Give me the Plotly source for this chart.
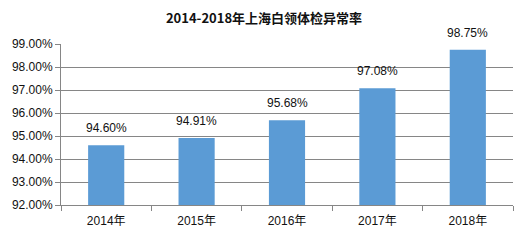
import plotly.graph_objects as go

categories = ["2014年", "2015年", "2016年", "2017年", "2018年"]
values = [94.60, 94.91, 95.68, 97.08, 98.75]
y_ticks = [92, 93, 94, 95, 96, 97, 98, 99]
y_tick_labels = [f"{v:.2f}%" for v in y_ticks]
title = "2014-2018年上海白领体检异常率"

font_family = "Liberation Sans, Noto Sans CJK SC, sans-serif"

fig = go.Figure(go.Bar(
    x=categories,
    y=values,
    marker=dict(color="#5B9BD5", line=dict(width=0)),
    width=0.4,
    cliponaxis=False,
))

for c, v in zip(categories, values):
    fig.add_annotation(
        x=c, y=v, text=f"{v:.2f}%", showarrow=False,
        yanchor="bottom", yshift=8,
        font=dict(size=12, color="#111111", family=font_family),
    )

fig.update_layout(
    width=528, height=240,
    margin=dict(l=59, r=15, t=44, b=35),
    paper_bgcolor="white", plot_bgcolor="white",
    title=dict(text=f"<b>{title}</b>", x=0.5, xanchor="center", y=0.925, yanchor="middle",
               font=dict(size=13, color="#111111", family="Noto Sans CJK SC, sans-serif")),
    showlegend=False,
    bargap=0.6,
    font=dict(family=font_family, size=12, color="#222222"),
)
fig.update_xaxes(
    showline=True, linecolor="#868686", linewidth=1,
    ticks="outside", tickson="boundaries", ticklen=5, tickcolor="#868686",
    tickfont=dict(size=12, family=font_family, color="#111111"),
    ticklabelstandoff=5,
    showgrid=False,
)
fig.update_yaxes(
    range=[92, 99],
    tickvals=y_ticks, ticktext=y_tick_labels,
    showline=True, linecolor="#868686", linewidth=1,
    ticks="outside", ticklen=5, tickcolor="#868686",
    showgrid=True, gridcolor="#868686", gridwidth=1,
    zeroline=False,
    tickfont=dict(size=12, family=font_family, color="#111111"),
)

fig.write_html("out.html")
